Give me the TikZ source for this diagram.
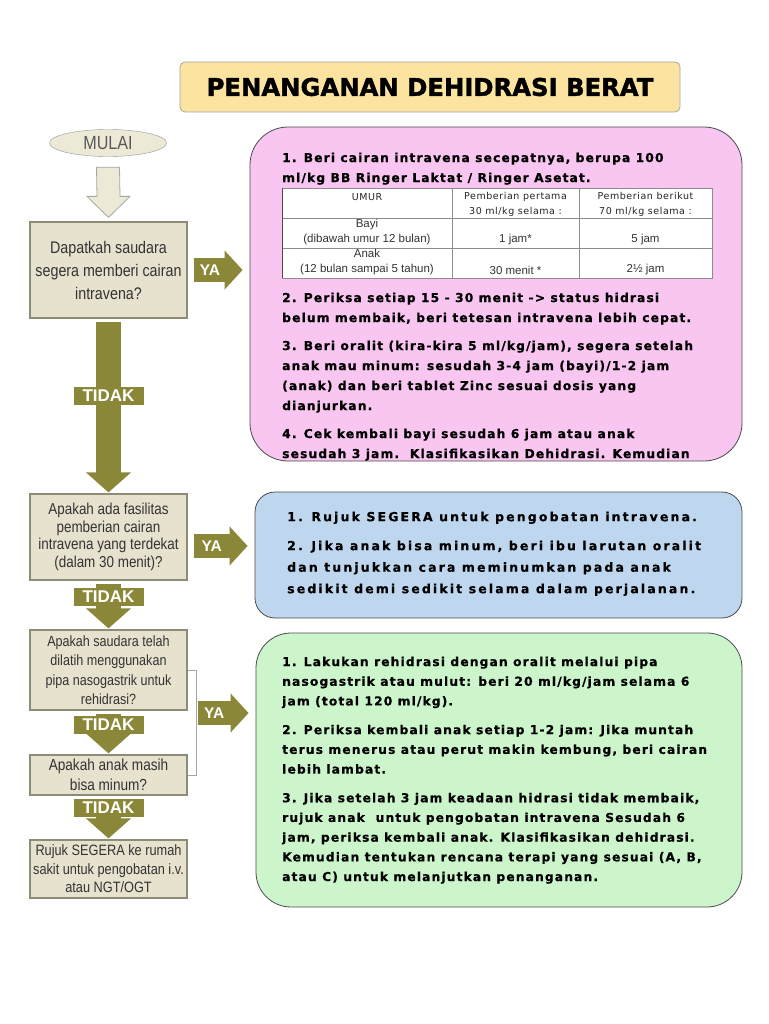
\documentclass[tikz,border=0pt]{standalone}
\usepackage{fontspec}
\setmainfont{Liberation Sans}
\newfontfamily\condfont{Liberation Sans}[FakeStretch=0.85]
\newfontfamily\bodyfont{DejaVu Sans}[LetterSpace=9, BoldFeatures={FakeBold=0.6}]
\newfontfamily\widefont{DejaVu Sans}[LetterSpace=17, BoldFeatures={FakeBold=0.6}]
\newfontfamily\cellfont{DejaVu Sans}[LetterSpace=6]
\newfontfamily\headfont{DejaVu Sans}[BoldFeatures={FakeBold=1.5}]
\usetikzlibrary{arrows.meta, positioning, shapes.geometric, calc}
\definecolor{olivearr}{HTML}{8A8838}
\definecolor{boxbg}{HTML}{E6E2CE}
\definecolor{boxline}{HTML}{8C8C78}
\definecolor{hollowbg}{HTML}{ECE9D6}
\definecolor{titlebg}{HTML}{FCE4A0}
\definecolor{pinkbg}{HTML}{F8C6F0}
\definecolor{bluebg}{HTML}{BED7EE}
\definecolor{greenbg}{HTML}{CCF5CC}
\definecolor{boxtext}{HTML}{333333}

\begin{document}
\begin{tikzpicture}[x=1pt, y=-1pt,
  qbox/.style={rectangle, draw=boxline, line width=1.2pt, fill=boxbg,
               minimum width=157pt, inner sep=2pt, align=center, text=boxtext},
  panel/.style={rectangle, draw=black!70, line width=0.8pt, inner sep=0pt},
  txt/.style={anchor=north west, inner sep=0pt, align=left},
  yaarrow/.style={olivearr, line width=24pt, shorten <=6pt, shorten >=7pt,
                  -{Triangle[length=18pt, width=38pt]}},
  tidakarrow/.style={olivearr, line width=25pt, shorten <=3pt, shorten >=1pt,
                     -{Triangle[length=20pt, width=44pt]}},
  yalabel/.style={text=white, inner sep=0pt, font=\bfseries\fontsize{15.5}{15.5}\selectfont},
  tidaklabel/.style={fill=olivearr, text=white, minimum width=70pt, minimum height=18pt,
                     inner sep=0pt, font=\bfseries\fontsize{17}{17}\selectfont},
  tabline/.style={draw=black!45, line width=0.6pt},
  cell/.style={inner sep=0pt, align=center, font=\fontsize{11.5}{15}\selectfont, text=black!80},
  headcell/.style={inner sep=0pt, align=center, font=\cellfont\fontsize{9.5}{15}\selectfont, text=black!85}
]
  \useasboundingbox[fill=white] (0,0) rectangle (768,1024);

  % Title
  \node[rectangle, rounded corners=5pt, draw=black!35, line width=0.8pt, fill=titlebg,
        minimum width=500pt, minimum height=50pt,
        font=\headfont\bfseries\fontsize{24.3}{26}\selectfont] (title) at (430,87)
        {PENANGANAN DEHIDRASI BERAT};

  % Left column
  \node[ellipse, draw=black!40, fill=hollowbg, minimum width=117pt, minimum height=27pt,
        inner sep=0pt, text=black!65, font=\condfont\fontsize{19}{19}\selectfont] (mulai) at (108,143) {MULAI};

  \node[qbox, minimum height=96pt, font=\condfont\fontsize{16.8}{23}\selectfont] (box1) at (108.5,270)
        {Dapatkah saudara\\segera memberi cairan\\intravena?};
  \node[qbox, minimum height=86pt, font=\condfont\fontsize{15.8}{17.5}\selectfont] (box2) at (108.5,537)
        {Apakah ada fasilitas\\pemberian cairan\\intravena yang terdekat\\(dalam 30 menit)?};
  \node[qbox, minimum height=80pt, font=\condfont\fontsize{14.8}{19.5}\selectfont] (box3) at (108.5,670)
        {Apakah saudara telah\\dilatih menggunakan\\pipa nasogastrik untuk\\rehidrasi?};
  \node[qbox, minimum height=40pt, font=\condfont\fontsize{16}{20}\selectfont] (box4) at (108.5,775)
        {Apakah anak masih\\bisa minum?};
  \node[qbox, minimum height=58pt, font=\condfont\fontsize{15}{18.5}\selectfont] (box5) at (108.5,869)
        {Rujuk SEGERA ke rumah\\sakit untuk pengobatan i.v.\\atau NGT/OGT};

  % Start arrow
  \path (mulai.south) ++(0,10.5) coordinate (s0);
  \path (box1.north) ++(0,-4) coordinate (s1);
  \draw[draw=black!35, fill=hollowbg, line width=0.8pt]
    ($(s0)+(-11.5,0)$) -- ($(s0)+(11.5,0)$) -- ($(s1)+(11.5,-21)$) -- ($(s1)+(21.5,-21)$)
    -- (s1) -- ($(s1)+(-21.5,-21)$) -- ($(s1)+(-11.5,-21)$) -- cycle;

  % Right panels
  \node[panel, rounded corners=38pt, fill=pinkbg, minimum width=492pt, minimum height=334pt] (pinkbox) at (496,294) {};
  \node[panel, rounded corners=20pt, fill=bluebg, minimum width=487pt, minimum height=126pt] (bluebox) at (498.5,555) {};
  \node[panel, rounded corners=35pt, fill=greenbg, minimum width=486pt, minimum height=274pt] (greenbox) at (499,770) {};

  % Pink panel text
  \node[txt, font=\bodyfont\bfseries\fontsize{12.3}{20}\selectfont] (p1) at (282,152.5)
    {1. Beri cairan intravena secepatnya, berupa 100\\ml/kg BB Ringer Laktat / Ringer Asetat.};
  \node[txt, font=\bodyfont\bfseries\fontsize{12.3}{20}\selectfont] (p2) at (282,292.5)
    {2. Periksa setiap 15 - 30 menit -> status hidrasi\\belum membaik, beri tetesan intravena lebih cepat.\\[8pt]
     3. Beri oralit (kira-kira 5 ml/kg/jam), segera setelah\\anak mau minum: sesudah 3-4 jam (bayi)/1-2 jam\\(anak) dan beri tablet Zinc sesuai dosis yang\\dianjurkan.\\[8pt]
     4. Cek kembali bayi sesudah 6 jam atau anak\\sesudah 3 jam.\ \ Klasifikasikan Dehidrasi. Kemudian};

  % Table
  \draw[tabline, fill=white] (282,188) rectangle (712,278);
  \draw[tabline] (282,218) -- (712,218);
  \draw[tabline] (282,248) -- (712,248);
  \draw[tabline] (452,188) -- (452,278);
  \draw[tabline] (579,188) -- (579,278);
  \draw[black!70, line width=1pt] (282,188) -- (282,278);
  \node[headcell] (hUmur) at (367,197) {UMUR};
  \node[headcell] (hFirst) at (515.5,204.5) {Pemberian pertama\\30 ml/kg selama :};
  \node[headcell] (hNext) at (645.5,204.5) {Pemberian berikut\\70 ml/kg selama :};
  \node[cell] (cBayi) at (367,232.5) {Bayi\\(dibawah umur 12 bulan)};
  \node[cell] (cBayiA) at (515.5,240) {1 jam*};
  \node[cell] (cBayiB) at (645.5,240) {5 jam};
  \node[cell] (cAnak) at (367,262.5) {Anak\\(12 bulan sampai 5 tahun)};
  \node[cell] (cAnakA) at (515.5,270) {30 menit *};
  \node[cell] (cAnakB) at (645.5,270) {2½ jam};

  % Blue panel text
  \node[txt, font=\widefont\bfseries\fontsize{12.5}{21.5}\selectfont] (b1) at (287,511.5)
    {1. Rujuk SEGERA untuk pengobatan intravena.\\[7.5pt]
     2. Jika anak bisa minum, beri ibu larutan oralit\\dan tunjukkan cara meminumkan pada anak\\sedikit demi sedikit selama dalam perjalanan.};

  % Green panel text
  \node[txt, font=\bodyfont\bfseries\fontsize{12.3}{19.7}\selectfont] (g1) at (282,656.5)
    {1. Lakukan rehidrasi dengan oralit melalui pipa\\nasogastrik atau mulut: beri 20 ml/kg/jam selama 6\\jam (total 120 ml/kg).\\[9pt]
     2. Periksa kembali anak setiap 1-2 jam: Jika muntah\\terus menerus atau perut makin kembung, beri cairan\\lebih lambat.\\[9pt]
     3. Jika setelah 3 jam keadaan hidrasi tidak membaik,\\rujuk anak\ \ untuk pengobatan intravena Sesudah 6\\jam, periksa kembali anak. Klasifikasikan dehidrasi.\\Kemudian tentukan rencana terapi yang sesuai (A, B,\\atau C) untuk melanjutkan penanganan.};

  % YA connectors
  \draw[yaarrow] (box1.east) -- (box1.east -| pinkbox.west) node[pos=0.36, yalabel] {YA};
  \draw[yaarrow] (box2.east) ++(0,9) coordinate (ya2) (ya2) -- (ya2 -| bluebox.west) node[pos=0.36, yalabel] {YA};
  \draw[black!35, line width=0.6pt] (box3.east) -- ++(9,0) coordinate (br1) |- (box4.east);
  \coordinate (yajoin) at (br1 |- 0,713);
  \draw[yaarrow, shorten <=1pt] (yajoin) -- (yajoin -| greenbox.west) node[pos=0.3, yalabel] {YA};

  % TIDAK connectors
  \draw[tidakarrow] (box1.south) -- (box2.north) node[pos=0.44, tidaklabel] {TIDAK};
  \draw[tidakarrow] (box2.south) -- (box3.north) node[pos=0.33, tidaklabel] {TIDAK};
  \draw[tidakarrow] (box3.south) -- (box4.north) node[pos=0.33, tidaklabel] {TIDAK};
  \draw[tidakarrow] (box4.south) -- (box5.north) node[pos=0.28, tidaklabel] {TIDAK};
\end{tikzpicture}
\end{document}
